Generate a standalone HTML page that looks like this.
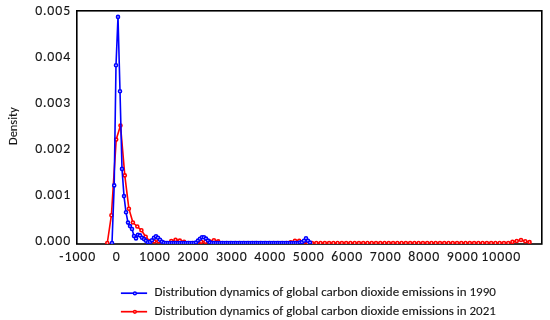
<!DOCTYPE html>
<html><head><meta charset="utf-8"><style>
html,body{margin:0;padding:0;background:#fff;width:550px;height:320px;overflow:hidden}
svg{display:block}
text{font-family:Carlito, 'Liberation Sans', sans-serif;fill:#151515;stroke:#151515;stroke-width:0.12px}
</style></head><body>
<svg width="550" height="320" viewBox="0 0 550 320">
<defs><clipPath id="pa"><rect x="78" y="12" width="463" height="232.05"/></clipPath></defs>
<rect x="76.8" y="10.8" width="465" height="233.2" fill="none" stroke="#000" stroke-width="1.6"/>
<g font-size="15"><text transform="scale(0.92,1.0)" x="38.27 46.78 51.47 60.15 68.83" y="245.40">0.000</text><text transform="scale(0.92,1.0)" x="38.27 46.78 51.47 60.15 68.83" y="199.22">0.001</text><text transform="scale(0.92,1.0)" x="38.27 46.78 51.47 60.15 68.83" y="153.04">0.002</text><text transform="scale(0.92,1.0)" x="38.27 46.78 51.47 60.15 68.83" y="106.86">0.003</text><text transform="scale(0.92,1.0)" x="38.27 46.78 51.47 60.15 68.83" y="60.68">0.004</text><text transform="scale(0.92,1.0)" x="38.27 46.78 51.47 60.15 68.83" y="14.50">0.005</text></g>
<g font-size="15"><text transform="scale(0.92,1.0)" x="64.48 70.02 78.69 87.37 96.05" y="260.70">-1000</text><text transform="scale(0.92,1.0)" x="122.49" y="260.70">0</text><text transform="scale(0.92,1.0)" x="150.99 159.66 168.34 177.02" y="260.70">1000</text><text transform="scale(0.92,1.0)" x="192.83 201.50 210.18 218.86" y="260.70">2000</text><text transform="scale(0.92,1.0)" x="234.66 243.34 252.02 260.69" y="260.70">3000</text><text transform="scale(0.92,1.0)" x="276.50 285.18 293.85 302.53" y="260.70">4000</text><text transform="scale(0.92,1.0)" x="318.34 327.01 335.69 344.37" y="260.70">5000</text><text transform="scale(0.92,1.0)" x="360.17 368.85 377.53 386.20" y="260.70">6000</text><text transform="scale(0.92,1.0)" x="402.01 410.69 419.36 428.04" y="260.70">7000</text><text transform="scale(0.92,1.0)" x="443.85 452.52 461.20 469.88" y="260.70">8000</text><text transform="scale(0.92,1.0)" x="485.68 494.36 503.04 511.71" y="260.70">9000</text><text transform="scale(0.92,1.0)" x="523.18 531.86 540.54 549.21 557.89" y="260.70">10000</text></g>
<text font-size="12.4" transform="translate(16.5,126.1) rotate(-90)" text-anchor="middle" textLength="37.75" lengthAdjust="spacingAndGlyphs">Density</text>
<g clip-path="url(#pa)">
<polyline points="107.30,243.00 111.40,215.20 116.20,139.60 120.50,125.50 124.80,175.40 128.90,208.80 132.90,222.50 137.30,226.50 141.42,230.30 145.69,236.80 149.95,241.00 154.22,241.40 158.48,241.40 162.75,242.40 167.01,243.00 171.27,241.00 175.54,239.90 179.81,240.60 184.07,241.90 188.33,243.00 192.60,243.00 196.87,243.00 201.13,241.80 205.39,241.80 209.66,241.40 213.92,240.20 218.19,241.40 222.45,243.00 226.72,243.00 230.98,243.00 235.25,243.00 239.51,243.00 243.78,243.00 248.04,243.00 252.31,243.00 256.57,243.00 260.84,243.00 265.10,243.00 269.37,243.00 273.63,243.00 277.90,243.00 282.16,243.00 286.43,243.00 290.69,242.20 294.96,240.70 299.22,240.70 303.49,242.00 307.75,243.00 312.02,243.00 316.28,243.00 320.55,243.00 324.81,243.00 329.08,243.00 333.34,243.00 337.61,243.00 341.88,243.00 346.14,243.00 350.40,243.00 354.67,243.00 358.94,243.00 363.20,243.00 367.46,243.00 371.73,243.00 376.00,243.00 380.26,243.00 384.52,243.00 388.79,243.00 393.06,243.00 397.32,243.00 401.58,243.00 405.85,243.00 410.12,243.00 414.38,243.00 418.64,243.00 422.91,243.00 427.18,243.00 431.44,243.00 435.70,243.00 439.97,243.00 444.24,243.00 448.50,243.00 452.76,243.00 457.03,243.00 461.29,243.00 465.56,243.00 469.82,243.00 474.09,243.00 478.35,243.00 482.62,243.00 486.88,243.00 491.15,243.00 495.41,243.00 499.68,243.00 503.94,243.00 508.21,243.00 512.47,241.90 516.74,241.00 521.00,240.00 525.27,241.30 529.53,242.10" fill="none" stroke="#f00" stroke-width="1.6" stroke-linejoin="round"/>
<g fill="#fff" stroke="#f00" stroke-width="1.6"><circle cx="107.30" cy="243.00" r="1.5"/><circle cx="111.40" cy="215.20" r="1.5"/><circle cx="116.20" cy="139.60" r="1.5"/><circle cx="120.50" cy="125.50" r="1.5"/><circle cx="124.80" cy="175.40" r="1.5"/><circle cx="128.90" cy="208.80" r="1.5"/><circle cx="132.90" cy="222.50" r="1.5"/><circle cx="137.30" cy="226.50" r="1.5"/><circle cx="141.42" cy="230.30" r="1.5"/><circle cx="145.69" cy="236.80" r="1.5"/><circle cx="149.95" cy="241.00" r="1.5"/><circle cx="154.22" cy="241.40" r="1.5"/><circle cx="158.48" cy="241.40" r="1.5"/><circle cx="162.75" cy="242.40" r="1.5"/><circle cx="167.01" cy="243.00" r="1.5"/><circle cx="171.27" cy="241.00" r="1.5"/><circle cx="175.54" cy="239.90" r="1.5"/><circle cx="179.81" cy="240.60" r="1.5"/><circle cx="184.07" cy="241.90" r="1.5"/><circle cx="188.33" cy="243.00" r="1.5"/><circle cx="192.60" cy="243.00" r="1.5"/><circle cx="196.87" cy="243.00" r="1.5"/><circle cx="201.13" cy="241.80" r="1.5"/><circle cx="205.39" cy="241.80" r="1.5"/><circle cx="209.66" cy="241.40" r="1.5"/><circle cx="213.92" cy="240.20" r="1.5"/><circle cx="218.19" cy="241.40" r="1.5"/><circle cx="222.45" cy="243.00" r="1.5"/><circle cx="226.72" cy="243.00" r="1.5"/><circle cx="230.98" cy="243.00" r="1.5"/><circle cx="235.25" cy="243.00" r="1.5"/><circle cx="239.51" cy="243.00" r="1.5"/><circle cx="243.78" cy="243.00" r="1.5"/><circle cx="248.04" cy="243.00" r="1.5"/><circle cx="252.31" cy="243.00" r="1.5"/><circle cx="256.57" cy="243.00" r="1.5"/><circle cx="260.84" cy="243.00" r="1.5"/><circle cx="265.10" cy="243.00" r="1.5"/><circle cx="269.37" cy="243.00" r="1.5"/><circle cx="273.63" cy="243.00" r="1.5"/><circle cx="277.90" cy="243.00" r="1.5"/><circle cx="282.16" cy="243.00" r="1.5"/><circle cx="286.43" cy="243.00" r="1.5"/><circle cx="290.69" cy="242.20" r="1.5"/><circle cx="294.96" cy="240.70" r="1.5"/><circle cx="299.22" cy="240.70" r="1.5"/><circle cx="303.49" cy="242.00" r="1.5"/><circle cx="307.75" cy="243.00" r="1.5"/><circle cx="312.02" cy="243.00" r="1.5"/><circle cx="316.28" cy="243.00" r="1.5"/><circle cx="320.55" cy="243.00" r="1.5"/><circle cx="324.81" cy="243.00" r="1.5"/><circle cx="329.08" cy="243.00" r="1.5"/><circle cx="333.34" cy="243.00" r="1.5"/><circle cx="337.61" cy="243.00" r="1.5"/><circle cx="341.88" cy="243.00" r="1.5"/><circle cx="346.14" cy="243.00" r="1.5"/><circle cx="350.40" cy="243.00" r="1.5"/><circle cx="354.67" cy="243.00" r="1.5"/><circle cx="358.94" cy="243.00" r="1.5"/><circle cx="363.20" cy="243.00" r="1.5"/><circle cx="367.46" cy="243.00" r="1.5"/><circle cx="371.73" cy="243.00" r="1.5"/><circle cx="376.00" cy="243.00" r="1.5"/><circle cx="380.26" cy="243.00" r="1.5"/><circle cx="384.52" cy="243.00" r="1.5"/><circle cx="388.79" cy="243.00" r="1.5"/><circle cx="393.06" cy="243.00" r="1.5"/><circle cx="397.32" cy="243.00" r="1.5"/><circle cx="401.58" cy="243.00" r="1.5"/><circle cx="405.85" cy="243.00" r="1.5"/><circle cx="410.12" cy="243.00" r="1.5"/><circle cx="414.38" cy="243.00" r="1.5"/><circle cx="418.64" cy="243.00" r="1.5"/><circle cx="422.91" cy="243.00" r="1.5"/><circle cx="427.18" cy="243.00" r="1.5"/><circle cx="431.44" cy="243.00" r="1.5"/><circle cx="435.70" cy="243.00" r="1.5"/><circle cx="439.97" cy="243.00" r="1.5"/><circle cx="444.24" cy="243.00" r="1.5"/><circle cx="448.50" cy="243.00" r="1.5"/><circle cx="452.76" cy="243.00" r="1.5"/><circle cx="457.03" cy="243.00" r="1.5"/><circle cx="461.29" cy="243.00" r="1.5"/><circle cx="465.56" cy="243.00" r="1.5"/><circle cx="469.82" cy="243.00" r="1.5"/><circle cx="474.09" cy="243.00" r="1.5"/><circle cx="478.35" cy="243.00" r="1.5"/><circle cx="482.62" cy="243.00" r="1.5"/><circle cx="486.88" cy="243.00" r="1.5"/><circle cx="491.15" cy="243.00" r="1.5"/><circle cx="495.41" cy="243.00" r="1.5"/><circle cx="499.68" cy="243.00" r="1.5"/><circle cx="503.94" cy="243.00" r="1.5"/><circle cx="508.21" cy="243.00" r="1.5"/><circle cx="512.47" cy="241.90" r="1.5"/><circle cx="516.74" cy="241.00" r="1.5"/><circle cx="521.00" cy="240.00" r="1.5"/><circle cx="525.27" cy="241.30" r="1.5"/><circle cx="529.53" cy="242.10" r="1.5"/></g>
<polyline points="112.00,243.00 114.20,185.40 116.00,65.20 118.00,16.90 120.00,91.20 122.00,168.90 124.00,196.10 126.00,212.30 128.00,222.60 130.00,226.10 132.00,229.00 134.00,236.00 136.00,238.40 138.00,234.80 140.00,235.40 142.00,237.80 144.00,239.10 146.00,240.80 148.00,242.20 150.00,242.00 152.00,240.30 154.00,237.80 156.00,236.20 158.00,237.80 160.00,239.80 162.00,241.70 164.00,242.70 166.00,243.00 168.00,243.00 170.00,243.00 172.00,243.00 174.00,243.00 176.00,243.00 178.00,243.00 180.00,243.00 182.00,243.00 184.00,243.00 186.00,243.00 188.00,243.00 190.00,243.00 192.00,243.00 194.00,243.00 196.00,242.60 198.00,240.60 200.00,238.70 202.00,237.30 204.00,237.30 206.00,238.60 208.00,240.60 210.00,242.40 212.00,243.00 214.00,243.00 216.00,243.00 218.00,243.00 220.00,243.00 222.00,243.00 224.00,243.00 226.00,243.00 228.00,243.00 230.00,243.00 232.00,243.00 234.00,243.00 236.00,243.00 238.00,243.00 240.00,243.00 242.00,243.00 244.00,243.00 246.00,243.00 248.00,243.00 250.00,243.00 252.00,243.00 254.00,243.00 256.00,243.00 258.00,243.00 260.00,243.00 262.00,243.00 264.00,243.00 266.00,243.00 268.00,243.00 270.00,243.00 272.00,243.00 274.00,243.00 276.00,243.00 278.00,243.00 280.00,243.00 282.00,243.00 284.00,243.00 286.00,243.00 288.00,243.00 290.00,243.00 292.00,243.00 294.00,243.00 296.00,243.00 298.00,243.00 300.00,242.60 302.00,242.20 304.00,240.70 306.00,238.30 308.00,240.70 310.00,242.60" fill="none" stroke="#00f" stroke-width="1.6" stroke-linejoin="round"/>
<g fill="#fff" stroke="#00f" stroke-width="1.6"><circle cx="112.00" cy="243.00" r="1.5"/><circle cx="114.20" cy="185.40" r="1.5"/><circle cx="116.00" cy="65.20" r="1.5"/><circle cx="118.00" cy="16.90" r="1.5"/><circle cx="120.00" cy="91.20" r="1.5"/><circle cx="122.00" cy="168.90" r="1.5"/><circle cx="124.00" cy="196.10" r="1.5"/><circle cx="126.00" cy="212.30" r="1.5"/><circle cx="128.00" cy="222.60" r="1.5"/><circle cx="130.00" cy="226.10" r="1.5"/><circle cx="132.00" cy="229.00" r="1.5"/><circle cx="134.00" cy="236.00" r="1.5"/><circle cx="136.00" cy="238.40" r="1.5"/><circle cx="138.00" cy="234.80" r="1.5"/><circle cx="140.00" cy="235.40" r="1.5"/><circle cx="142.00" cy="237.80" r="1.5"/><circle cx="144.00" cy="239.10" r="1.5"/><circle cx="146.00" cy="240.80" r="1.5"/><circle cx="148.00" cy="242.20" r="1.5"/><circle cx="150.00" cy="242.00" r="1.5"/><circle cx="152.00" cy="240.30" r="1.5"/><circle cx="154.00" cy="237.80" r="1.5"/><circle cx="156.00" cy="236.20" r="1.5"/><circle cx="158.00" cy="237.80" r="1.5"/><circle cx="160.00" cy="239.80" r="1.5"/><circle cx="162.00" cy="241.70" r="1.5"/><circle cx="164.00" cy="242.70" r="1.5"/><circle cx="166.00" cy="243.00" r="1.5"/><circle cx="168.00" cy="243.00" r="1.5"/><circle cx="170.00" cy="243.00" r="1.5"/><circle cx="172.00" cy="243.00" r="1.5"/><circle cx="174.00" cy="243.00" r="1.5"/><circle cx="176.00" cy="243.00" r="1.5"/><circle cx="178.00" cy="243.00" r="1.5"/><circle cx="180.00" cy="243.00" r="1.5"/><circle cx="182.00" cy="243.00" r="1.5"/><circle cx="184.00" cy="243.00" r="1.5"/><circle cx="186.00" cy="243.00" r="1.5"/><circle cx="188.00" cy="243.00" r="1.5"/><circle cx="190.00" cy="243.00" r="1.5"/><circle cx="192.00" cy="243.00" r="1.5"/><circle cx="194.00" cy="243.00" r="1.5"/><circle cx="196.00" cy="242.60" r="1.5"/><circle cx="198.00" cy="240.60" r="1.5"/><circle cx="200.00" cy="238.70" r="1.5"/><circle cx="202.00" cy="237.30" r="1.5"/><circle cx="204.00" cy="237.30" r="1.5"/><circle cx="206.00" cy="238.60" r="1.5"/><circle cx="208.00" cy="240.60" r="1.5"/><circle cx="210.00" cy="242.40" r="1.5"/><circle cx="212.00" cy="243.00" r="1.5"/><circle cx="214.00" cy="243.00" r="1.5"/><circle cx="216.00" cy="243.00" r="1.5"/><circle cx="218.00" cy="243.00" r="1.5"/><circle cx="220.00" cy="243.00" r="1.5"/><circle cx="222.00" cy="243.00" r="1.5"/><circle cx="224.00" cy="243.00" r="1.5"/><circle cx="226.00" cy="243.00" r="1.5"/><circle cx="228.00" cy="243.00" r="1.5"/><circle cx="230.00" cy="243.00" r="1.5"/><circle cx="232.00" cy="243.00" r="1.5"/><circle cx="234.00" cy="243.00" r="1.5"/><circle cx="236.00" cy="243.00" r="1.5"/><circle cx="238.00" cy="243.00" r="1.5"/><circle cx="240.00" cy="243.00" r="1.5"/><circle cx="242.00" cy="243.00" r="1.5"/><circle cx="244.00" cy="243.00" r="1.5"/><circle cx="246.00" cy="243.00" r="1.5"/><circle cx="248.00" cy="243.00" r="1.5"/><circle cx="250.00" cy="243.00" r="1.5"/><circle cx="252.00" cy="243.00" r="1.5"/><circle cx="254.00" cy="243.00" r="1.5"/><circle cx="256.00" cy="243.00" r="1.5"/><circle cx="258.00" cy="243.00" r="1.5"/><circle cx="260.00" cy="243.00" r="1.5"/><circle cx="262.00" cy="243.00" r="1.5"/><circle cx="264.00" cy="243.00" r="1.5"/><circle cx="266.00" cy="243.00" r="1.5"/><circle cx="268.00" cy="243.00" r="1.5"/><circle cx="270.00" cy="243.00" r="1.5"/><circle cx="272.00" cy="243.00" r="1.5"/><circle cx="274.00" cy="243.00" r="1.5"/><circle cx="276.00" cy="243.00" r="1.5"/><circle cx="278.00" cy="243.00" r="1.5"/><circle cx="280.00" cy="243.00" r="1.5"/><circle cx="282.00" cy="243.00" r="1.5"/><circle cx="284.00" cy="243.00" r="1.5"/><circle cx="286.00" cy="243.00" r="1.5"/><circle cx="288.00" cy="243.00" r="1.5"/><circle cx="290.00" cy="243.00" r="1.5"/><circle cx="292.00" cy="243.00" r="1.5"/><circle cx="294.00" cy="243.00" r="1.5"/><circle cx="296.00" cy="243.00" r="1.5"/><circle cx="298.00" cy="243.00" r="1.5"/><circle cx="300.00" cy="242.60" r="1.5"/><circle cx="302.00" cy="242.20" r="1.5"/><circle cx="304.00" cy="240.70" r="1.5"/><circle cx="306.00" cy="238.30" r="1.5"/><circle cx="308.00" cy="240.70" r="1.5"/><circle cx="310.00" cy="242.60" r="1.5"/></g>
</g>
<line x1="120.9" y1="293.2" x2="147.1" y2="293.2" stroke="#00f" stroke-width="1.7"/>
<circle cx="134.9" cy="293.4" r="1.35" fill="#fff" stroke="#00f" stroke-width="1.6"/>
<line x1="120.9" y1="311.7" x2="147.1" y2="311.7" stroke="#f00" stroke-width="1.7"/>
<circle cx="134.9" cy="311.8" r="1.35" fill="#fff" stroke="#f00" stroke-width="1.6"/>
<g font-size="13">
<text x="154.5" y="296.2" textLength="341.36" lengthAdjust="spacingAndGlyphs">Distribution dynamics of global carbon dioxide emissions in 1990</text>
<text x="154.5" y="314.6" textLength="341.36" lengthAdjust="spacingAndGlyphs">Distribution dynamics of global carbon dioxide emissions in 2021</text>
</g>
</svg>
</body></html>
